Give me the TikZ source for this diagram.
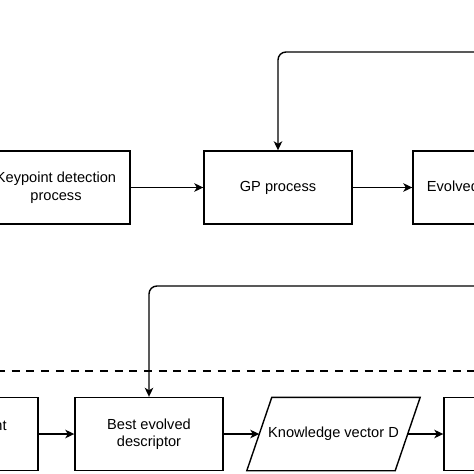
\documentclass[tikz,border=0pt]{standalone}
\usepackage{fontspec}
\setmainfont{Liberation Sans}
\usetikzlibrary{arrows.meta,calc}
\begin{document}
\begin{tikzpicture}[x=1pt,y=-1pt,
  box/.style={draw,line width=1.4pt,minimum width=148pt,minimum height=73pt,inner sep=0pt,align=center,font=\fontsize{14.6}{17.5}\selectfont},
  ghost/.style={minimum width=148pt,minimum height=73pt,inner sep=0pt,align=center,font=\fontsize{14.6}{17.5}\selectfont},
  conn/.style={line width=1.4pt,-{Stealth[length=9pt,width=8.5pt,inset=2.5pt]}},
  fb/.style={conn,rounded corners=8pt}]
\useasboundingbox (0,0) rectangle (474,474);
\clip (0,0) rectangle (474,474);
\fill[white] (0,0) rectangle (474,474);
% top row
\node[box] (kp) at (56,187.5) {Keypoint detection\\process};
\node[box] (gp) at (278,187.5) {GP process};
\node[box] (ev) at (487,187.5) {Evolved descriptor};
\coordinate (t1) at (500,52);
\draw[conn] (kp) -- (gp);
\draw[conn] (gp) -- (ev);
\draw[fb] (t1) -- (gp.north |- t1) -- (gp.north);
% dashed separator
\draw[line width=2.8pt,dash pattern=on 8pt off 6.7pt] (-3,371) -- (480,371);
% bottom row
\node[box] (tk) at (-36,434) {Test keypoint\\detection};
\node[box] (be) at (149,434) {Best evolved\\descriptor};
\node[ghost,minimum width=148pt] (kv) at (333.5,434) {Knowledge vector D};
\draw[line width=1.4pt] ($(kv.north west)+(12.5,0)$) -- ($(kv.north east)+(12.5,0)$) -- ($(kv.south east)+(-12.5,0)$) -- ($(kv.south west)+(-12.5,0)$) -- cycle;
\node[box] (rb) at (518,434) {};
\coordinate (t2) at (500,286);
\draw[conn] (tk) -- (be);
\draw[conn] (be) -- (kv.west);
\draw[conn] (kv.east) -- (rb);
\draw[fb] (t2) -- (be.north |- t2) -- (be.north);
\end{tikzpicture}
\end{document}
